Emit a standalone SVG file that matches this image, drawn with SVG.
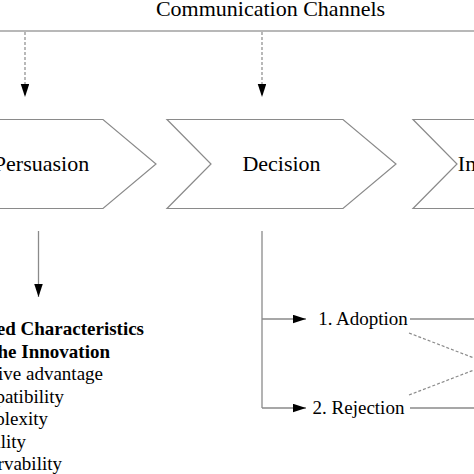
<svg xmlns="http://www.w3.org/2000/svg" width="474" height="474" viewBox="0 0 474 474">
<style>
text{font-family:"Liberation Serif","Times New Roman",serif;font-size:22px;fill:#000}
.s{font-size:19px}
.b{font-weight:bold;font-size:19px}
.chev{fill:#fff;stroke:#8a8a8a;stroke-width:1.2}
.ln{fill:none;stroke:#8a8a8a;stroke-width:1.3}
.dash{fill:none;stroke:#8a8a8a;stroke-width:1.2;stroke-dasharray:3 2}
</style>
<defs>
<marker id="ah" markerUnits="userSpaceOnUse" markerWidth="14" markerHeight="9" refX="13" refY="4.25" orient="auto">
<path d="M0,0 L13,4.25 L0,8.5 z" fill="#000"/>
</marker>
</defs>
<rect width="474" height="474" fill="#fff"/>
<g id="channels">
<text x="270.5" y="16" text-anchor="middle">Communication Channels</text>
<line class="ln" x1="0" y1="31" x2="474" y2="31" style="stroke:#a0a0a0;stroke-width:1.6"/>
</g>
<g id="persuasion">
<polygon class="chev" points="-73,119.5 103,119.5 156,164 103,208.5 -73,208.5 -29,164"/>
<text x="41.5" y="171" text-anchor="middle">Persuasion</text>
</g>
<g id="decision">
<polygon class="chev" points="167,119.5 343,119.5 396,164 343,208.5 167,208.5 211,164"/>
<text x="281.5" y="171" text-anchor="middle">Decision</text>
</g>
<g id="implementation">
<polygon class="chev" points="413,119.5 589,119.5 642,164 589,208.5 413,208.5 457,164"/>
<text x="527.5" y="171" text-anchor="middle">Implementation</text>
</g>
<g id="characteristics">
<text class="b" x="144" y="335" text-anchor="end">Perceived Characteristics</text>
<text class="b" x="110" y="357.5" text-anchor="end">of the Innovation</text>
<text class="s" x="103" y="380" text-anchor="end">1. Relative advantage</text>
<text class="s" x="64" y="402.5" text-anchor="end">2. Compatibility</text>
<text class="s" x="48" y="425" text-anchor="end">3. Complexity</text>
<text class="s" x="26" y="447.5" text-anchor="end">4. Trialability</text>
<text class="s" x="62" y="470" text-anchor="end">5. Observability</text>
</g>
<g id="adoption">
<text class="s" x="363" y="325" text-anchor="middle">1. Adoption</text>
</g>
<g id="rejection">
<text class="s" x="358.5" y="414" text-anchor="middle">2. Rejection</text>
</g>
<g id="connectors">
<line class="dash" x1="25" y1="32" x2="25" y2="97" marker-end="url(#ah)"/>
<line class="dash" x1="262" y1="32" x2="262" y2="97" marker-end="url(#ah)"/>
<line class="ln" x1="38.5" y1="231" x2="38.5" y2="297" marker-end="url(#ah)"/>
<polyline class="ln" points="262,231 262,408"/>
<line class="ln" x1="262" y1="319" x2="306" y2="319" marker-end="url(#ah)"/>
<line class="ln" x1="262" y1="408" x2="306" y2="408" marker-end="url(#ah)"/>
<line class="ln" x1="410" y1="319" x2="474" y2="319"/>
<line class="ln" x1="410" y1="408" x2="474" y2="408"/>
<line class="dash" x1="409" y1="333" x2="474" y2="358"/>
<line class="dash" x1="409" y1="395" x2="474" y2="370"/>
</g>
</svg>
